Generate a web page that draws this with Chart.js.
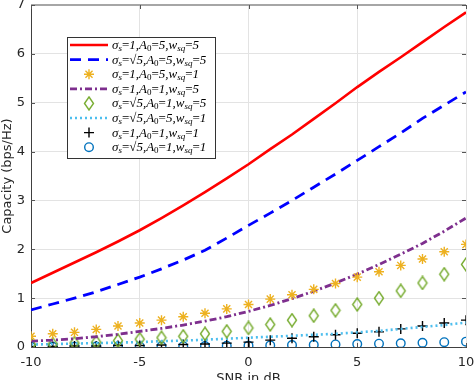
<!DOCTYPE html>
<html><head><meta charset="utf-8">
<script src="https://cdn.jsdelivr.net/npm/chart.js@4.4.1/dist/chart.umd.min.js"></script>
<style>
html,body{margin:0;padding:0;overflow:hidden;background:#fff;}
#wrap{position:relative;width:474px;height:395px;}
#legend{position:absolute;left:0;top:0;font-family:"Liberation Serif","DejaVu Serif",serif;font-style:italic;font-size:13px;color:#000;}
.row{position:absolute;white-space:nowrap;line-height:14px;height:14px;}
.row sub{font-size:9px;vertical-align:-2px;line-height:0;}
.u{font-style:normal;}
</style></head><body>
<div id="wrap"><canvas id="c" width="474" height="395"></canvas><div id="legend"></div></div>
<script>
const snrDb = [-10,-9,-8,-7,-6,-5,-4,-3,-2,-1,0,1,2,3,4,5,6,7,8,9,10];
const capS1A5W5 = [1.31,1.52,1.73,1.94,2.16,2.39,2.64,2.90,3.17,3.45,3.74,4.05,4.35,4.67,4.99,5.32,5.63,5.93,6.24,6.55,6.85];
const capS5A5W5 = [0.76,0.88,1.00,1.13,1.28,1.43,1.60,1.78,1.98,2.23,2.49,2.74,3.00,3.27,3.54,3.82,4.10,4.38,4.68,4.95,5.22];
const capS1A5W1 = [0.22,0.27,0.30,0.36,0.43,0.49,0.55,0.62,0.69,0.78,0.87,0.98,1.07,1.18,1.30,1.43,1.54,1.67,1.80,1.95,2.10];
const capS1A1W5 = [0.12,0.14,0.17,0.21,0.26,0.32,0.38,0.45,0.53,0.62,0.73,0.85,0.99,1.14,1.31,1.49,1.69,1.90,2.12,2.37,2.64];
const capS5A1W5 = [0.05,0.06,0.08,0.10,0.13,0.16,0.19,0.22,0.27,0.32,0.39,0.46,0.55,0.64,0.75,0.87,1.00,1.15,1.31,1.49,1.69];
const capS5A5W1 = [0.05,0.06,0.07,0.08,0.09,0.10,0.12,0.13,0.15,0.17,0.19,0.21,0.23,0.25,0.27,0.30,0.33,0.37,0.41,0.45,0.50];
const capS1A1W1 = [0.01,0.01,0.02,0.02,0.03,0.03,0.04,0.05,0.06,0.08,0.10,0.14,0.18,0.21,0.25,0.28,0.31,0.37,0.43,0.49,0.55];
const capS5A1W1 = [0.004,0.005,0.006,0.008,0.010,0.012,0.014,0.017,0.020,0.024,0.028,0.033,0.039,0.045,0.052,0.060,0.068,0.077,0.087,0.098,0.110];
const xTicks = [-10,-5,0,5,10];
const yTicks = [0,1,2,3,4,5,6,7];
const sigmaLabels = ['1','√5','1','1','√5','√5','1','√5'];
const a0Labels = ['5','5','5','1','1','5','1','1'];
const wsqLabels = ['5','5','1','5','5','1','1','1'];

function tallDiamond(color){
  const c = document.createElement('canvas'); c.width = 12; c.height = 15;
  const g = c.getContext('2d'); g.strokeStyle = color; g.lineWidth = 1.4;
  g.beginPath(); g.moveTo(6,1); g.lineTo(10.5,7.5); g.lineTo(6,14); g.lineTo(1.5,7.5); g.closePath(); g.stroke();
  return c;
}

const pts = arr => arr.map((v,i)=>({x:snrDb[i], y:v}));
const lineDs = (data,color,width,dash) => ({data:pts(data),borderColor:color,backgroundColor:color,borderWidth:width,borderDash:dash,pointRadius:0,showLine:true,tension:0,fill:false});
const markDs = (data,color,style,r) => ({data:pts(data),borderColor:color,backgroundColor:'rgba(0,0,0,0)',pointStyle:style,pointRadius:r,pointBorderWidth:1.4,pointHoverRadius:r,showLine:false});

const datasets = [
  lineDs(capS1A5W5,'#ff0000',2.6,[]),
  lineDs(capS5A5W5,'#0000ff',2.8,[11,7]),
  markDs(capS1A5W1,'#EDB120','star',5),
  lineDs(capS1A1W5,'#7E2F8E',2.8,[7,3,2,3]),
  markDs(capS5A1W5,'#77AC30',tallDiamond('#77AC30'),6),
  lineDs(capS5A5W1,'#4DBEEE',2.6,[2,3]),
  markDs(capS1A1W1,'#000000','cross',5),
  markDs(capS5A1W1,'#0072BD','circle',4.3)
];

const LEG = {x0:67, y0:37, w:148, h:121, row0:45, dy:14.6, sx0:70, sx1:108, tx:112};

const frame = {
  id:'frame',
  afterDatasetsDraw(chart){
    const ctx = chart.ctx, a = chart.chartArea, ys = chart.scales.y, xs = chart.scales.x;
    ctx.save();
    ctx.setLineDash([]);
    ctx.strokeStyle = '#a6a6a6'; ctx.lineWidth = 2;
    ctx.beginPath(); ctx.moveTo(a.left, a.top); ctx.lineTo(a.right, a.top); ctx.stroke();
    ctx.strokeStyle = '#555'; ctx.lineWidth = 1;
    yTicks.forEach(v=>{ const y = Math.round(ys.getPixelForValue(v))+0.5;
      ctx.beginPath(); ctx.moveTo(a.right-4,y); ctx.lineTo(a.right,y); ctx.stroke();
      ctx.beginPath(); ctx.moveTo(a.left,y); ctx.lineTo(a.left+4,y); ctx.stroke(); });
    xTicks.forEach(v=>{ const x = Math.round(xs.getPixelForValue(v))+0.5;
      ctx.beginPath(); ctx.moveTo(x,a.top); ctx.lineTo(x,a.top+4); ctx.stroke();
      ctx.beginPath(); ctx.moveTo(x,a.bottom); ctx.lineTo(x,a.bottom-4); ctx.stroke(); });
    ctx.fillStyle = '#fff'; ctx.strokeStyle = '#333'; ctx.lineWidth = 1;
    ctx.fillRect(LEG.x0+0.5, LEG.y0+0.5, LEG.w, LEG.h);
    ctx.strokeRect(LEG.x0+0.5, LEG.y0+0.5, LEG.w, LEG.h);
    chart.data.datasets.forEach((ds,i)=>{
      const y = LEG.row0 + i*LEG.dy;
      ctx.save();
      if (ds.showLine) {
        ctx.setLineDash(ds.borderDash||[]);
        ctx.strokeStyle = ds.borderColor; ctx.lineWidth = ds.borderWidth;
        ctx.beginPath(); ctx.moveTo(LEG.sx0,y); ctx.lineTo(LEG.sx1,y); ctx.stroke();
      } else {
        ctx.setLineDash([]);
        ctx.strokeStyle = ds.borderColor; ctx.fillStyle = ds.backgroundColor; ctx.lineWidth = ds.pointBorderWidth;
        Chart.helpers.drawPoint(ctx,{pointStyle:ds.pointStyle,radius:ds.pointRadius,rotation:0,borderWidth:ds.pointBorderWidth},(LEG.sx0+LEG.sx1)/2,y);
      }
      ctx.restore();
    });
    ctx.restore();
  }
};

new Chart(document.getElementById('c'), {
  type:'scatter',
  data:{datasets},
  options:{
    responsive:false, animation:false, events:[],
    layout:{padding:{top:5,right:8,left:0,bottom:0}, autoPadding:false},
    plugins:{legend:{display:false}, tooltip:{enabled:false}},
    scales:{
      x:{type:'linear', min:-10, max:10,
         afterBuildTicks: s => { s.ticks = xTicks.map(v=>({value:v})); },
         afterFit: s => { s.height = 48; s.paddingLeft = 0; s.paddingRight = 0; },
         grid:{color:'#e3e3e3', drawTicks:false},
         border:{color:'#404040', width:1},
         ticks:{padding:8, color:'#262626', font:{family:'DejaVu Sans', size:13}, maxRotation:0},
         title:{display:true, text:'SNR in dB', color:'#262626', font:{family:'DejaVu Sans', size:13}, padding:{top:2,bottom:9}}},
      y:{type:'linear', min:0, max:7,
         afterBuildTicks: s => { s.ticks = yTicks.map(v=>({value:v})); },
         afterFit: s => { s.width = 31; s.paddingTop = 0; s.paddingBottom = 0; },
         grid:{color:'#e3e3e3', drawTicks:false},
         border:{color:'#404040', width:1},
         ticks:{padding:6, color:'#262626', font:{family:'DejaVu Sans', size:13}},
         title:{display:true, text:'Capacity (bps/Hz)', color:'#262626', font:{family:'DejaVu Sans', size:13}, padding:{top:0,bottom:0}}}
    }
  },
  plugins:[frame]
});

const leg = document.getElementById('legend');
sigmaLabels.forEach((s,i)=>{
  const d = document.createElement('div');
  d.className = 'row';
  d.style.left = LEG.tx + 'px';
  d.style.top = (LEG.row0 + i*LEG.dy - 7) + 'px';
  d.innerHTML = 'σ<sub>s</sub><span class="u">=</span>' + s + ',A<sub class="u">0</sub><span class="u">=</span>' + a0Labels[i] + ',w<sub>sq</sub><span class="u">=</span>' + wsqLabels[i];
  leg.appendChild(d);
});
</script>
</body></html>
